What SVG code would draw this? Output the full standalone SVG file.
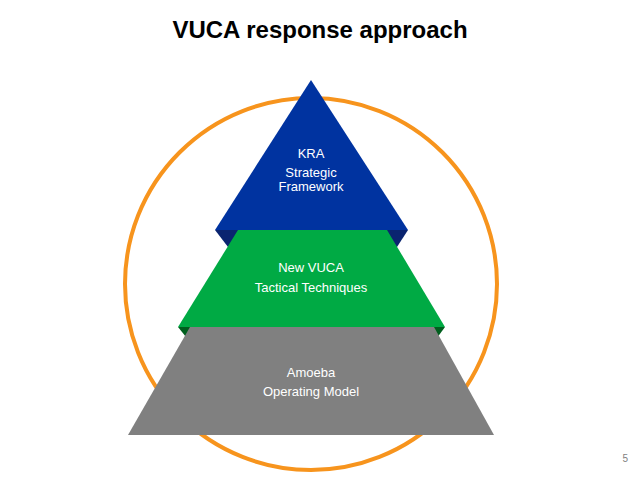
<svg xmlns="http://www.w3.org/2000/svg" width="638" height="478" viewBox="0 0 638 478">
<style>
.t{font-family:"Liberation Sans",Arial,sans-serif;fill:#fff;font-size:13px;text-anchor:middle}
</style>
<rect width="638" height="478" fill="#fff"/>
<text x="320" y="38" font-family="Liberation Sans,Arial,sans-serif" font-size="24" font-weight="bold" text-anchor="middle" fill="#000">VUCA response approach</text>
<circle cx="311" cy="284" r="186" fill="none" stroke="#F7941D" stroke-width="4"/>
<g id="kra">
<polygon points="215,230 408,230 397,247 228,247" fill="#0A2470"/>
<polygon points="311,80 408,230 215,230" fill="#0033A0"/>
<text class="t" x="311" y="158">KRA</text>
<text class="t" x="311" y="177">Strategic</text>
<text class="t" x="311" y="191">Framework</text>
</g>
<g id="vuca">
<polygon points="178,327 445,327 434,342 190,342" fill="#005F1E"/>
<polygon points="238,230 387,230 445,327 178,327" fill="#00AA44"/>
<text class="t" x="311" y="272">New VUCA</text>
<text class="t" x="311" y="292">Tactical Techniques</text>
</g>
<g id="amoeba">
<polygon points="190,327 434,327 494,435 128,435" fill="#808080"/>
<text class="t" x="311" y="377">Amoeba</text>
<text class="t" x="311" y="396">Operating Model</text>
</g>
<g id="connectors"/>
<text x="628" y="462" font-family="Liberation Sans,Arial,sans-serif" font-size="10" fill="#7f7f7f" text-anchor="end">5</text>
</svg>
